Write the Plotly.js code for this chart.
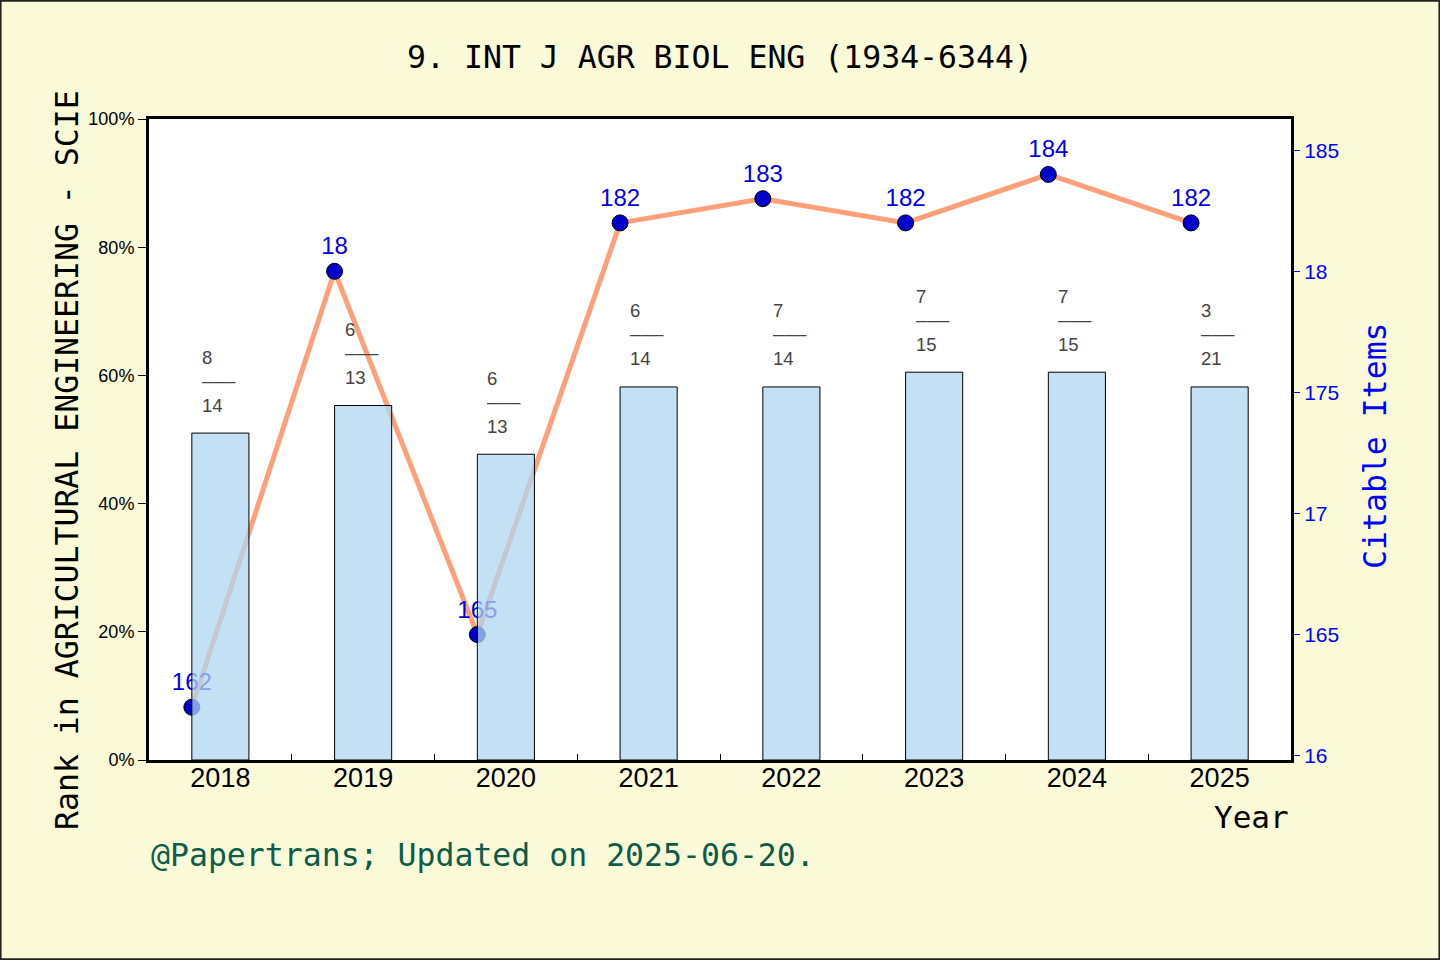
<!DOCTYPE html>
<html>
  <head>
    <meta charset="utf-8" />
    <title>INT J AGR BIOL ENG</title>
    <script src="https://cdn.plot.ly/plotly-3.0.1.min.js"></script>
    <style>
      body { margin: 0; padding: 0; background-color: #fafad8; }
      #graphDiv { width: 1440px; height: 960px; }
    </style>
  </head>
  <body>
    <div id="graphDiv"></div>
    <script>
      const years = [2018, 2019, 2020, 2021, 2022, 2023, 2024, 2025];
      const rank_pct = [51.0, 55.3, 47.7, 58.2, 58.2, 60.5, 60.5, 58.2];
      const rank_num = ["8", "6", "6", "6", "7", "7", "7", "3"];
      const rank_den = ["14", "13", "13", "14", "14", "15", "15", "21"];
      const citable = [162, 180, 165, 182, 183, 182, 184, 182];
      const citable_labels = ["162", "18", "165", "182", "183", "182", "184", "182"];
      const left_ticks = [0, 20, 40, 60, 80, 100];
      const right_ticks = [160, 165, 170, 175, 180, 185];
      const right_ticktext = ["16", "165", "17", "175", "18", "185"];

      const mono = "DejaVu Sans Mono, monospace";
      const sans = "Liberation Sans, Arial, sans-serif";

      // line first (base axis, right side), bars on the overlaying axis so they sit on top
      const lineTrace = {
        x: years,
        y: citable,
        yaxis: "y",
        type: "scatter",
        mode: "lines+markers+text",
        line: { color: "#ffa07a", width: 5 },
        marker: { size: 16, color: "#0000cc", line: { color: "black", width: 1 } },
        text: citable_labels,
        textposition: "top center",
        textfont: { family: sans, size: 24, color: "#0000e6" },
        cliponaxis: false,
        hoverinfo: "x+y",
        showlegend: false,
      };

      const barTrace = {
        x: years,
        y: rank_pct,
        yaxis: "y2",
        type: "bar",
        width: 0.4,
        offset: 0,
        marker: { color: "rgba(176,213,242,0.75)", line: { color: "black", width: 1 } },
        hoverinfo: "x+y",
        showlegend: false,
      };

      const annotations = [];
      for (let i = 0; i < years.length; i++) {
        annotations.push({
          x: years[i],
          y: rank_pct[i],
          xref: "x",
          yref: "y2",
          text: rank_num[i] + "<br><span style='font-family:DejaVu Sans Mono'>–––</span><br>" + rank_den[i],
          showarrow: false,
          align: "left",
          xanchor: "left",
          yanchor: "middle",
          xshift: 9,
          yshift: 52,
          borderpad: 0,
          font: { family: sans, size: 18.5, color: "#444444" },
        });
      }

      annotations.push({
        xref: "paper", yref: "paper", x: -0.0718, y: 0.468,
        xanchor: "center", yanchor: "middle",
        text: "Rank in AGRICULTURAL ENGINEERING - SCIE",
        textangle: -90, showarrow: false,
        font: { family: mono, size: 31.5, color: "black" },
      });
      annotations.push({
        xref: "paper", yref: "paper", x: 1.0736, y: 0.49,
        xanchor: "center", yanchor: "middle",
        text: "Citable Items",
        textangle: -90, showarrow: false,
        font: { family: mono, size: 31.5, color: "#0000ff" },
      });
      annotations.push({
        xref: "paper", yref: "paper", x: 1.0, y: -0.089,
        xanchor: "right", yanchor: "middle",
        text: "Year", showarrow: false,
        font: { family: mono, size: 31, color: "black" },
      });
      annotations.push({
        xref: "paper", yref: "paper", x: 0, y: -0.148,
        xanchor: "left", yanchor: "middle",
        text: "@Papertrans; Updated on 2025-06-20.", showarrow: false,
        font: { family: mono, size: 31.5, color: "#0d5c4a" },
      });

      const layout = {
        width: 1440,
        height: 960,
        paper_bgcolor: "#fafad8",
        plot_bgcolor: "white",
        margin: { l: 149, r: 149, t: 119, b: 200 },
        showlegend: false,
        title: {
          text: "9. INT J AGR BIOL ENG (1934-6344)",
          font: { family: mono, size: 31.5, color: "black" },
          x: 0.5,
          xanchor: "center",
          y: 1 - 57 / 960,
          yanchor: "middle",
          yref: "container",
        },
        xaxis: {
          range: [2017.7, 2025.7],
          tickmode: "array",
          tickvals: years.map((y) => y + 0.2),
          ticktext: years.map(String),
          ticks: "",
          ticklabelstandoff: -8,
          tickfont: { family: sans, size: 27, color: "black" },
          showgrid: false,
          zeroline: false,
          showline: true,
          linecolor: "black",
          linewidth: 3,
          mirror: true,
          minor: {
            tickmode: "array",
            tickvals: years.slice(0, -1).map((y) => y + 0.7),
            ticks: "inside",
            ticklen: 6,
            tickcolor: "black",
            tickwidth: 1,
            showgrid: false,
          },
        },
        yaxis: {
          side: "right",
          range: [159.82, 186.29],
          tickmode: "array",
          tickvals: right_ticks,
          ticktext: right_ticktext,
          ticks: "outside",
          ticklen: 6,
          tickcolor: "#0000ff",
          tickfont: { family: sans, size: 21, color: "#0000ff" },
          showgrid: false,
          zeroline: false,
          showline: true,
          linecolor: "black",
          linewidth: 3,
        },
        yaxis2: {
          overlaying: "y",
          side: "left",
          range: [0, 100],
          tickmode: "array",
          tickvals: left_ticks,
          ticktext: left_ticks.map((v) => v + "%"),
          ticks: "outside",
          ticklen: 8,
          tickcolor: "black",
          tickfont: { family: sans, size: 18, color: "black" },
          showgrid: false,
          zeroline: false,
          showline: true,
          linecolor: "black",
          linewidth: 3,
        },
        annotations: annotations,
        shapes: [
          {
            type: "rect",
            xref: "paper",
            yref: "paper",
            x0: -149 / 1142 + 0.0005,
            x1: 1 + 149 / 1142 - 0.0005,
            y0: -200 / 641 + 0.001,
            y1: 1 + 119 / 641 - 0.001,
            line: { color: "#222222", width: 2 },
            layer: "below",
          },
        ],
      };

      Plotly.newPlot("graphDiv", [lineTrace, barTrace], layout, { displayModeBar: false });
    </script>
  </body>
</html>
